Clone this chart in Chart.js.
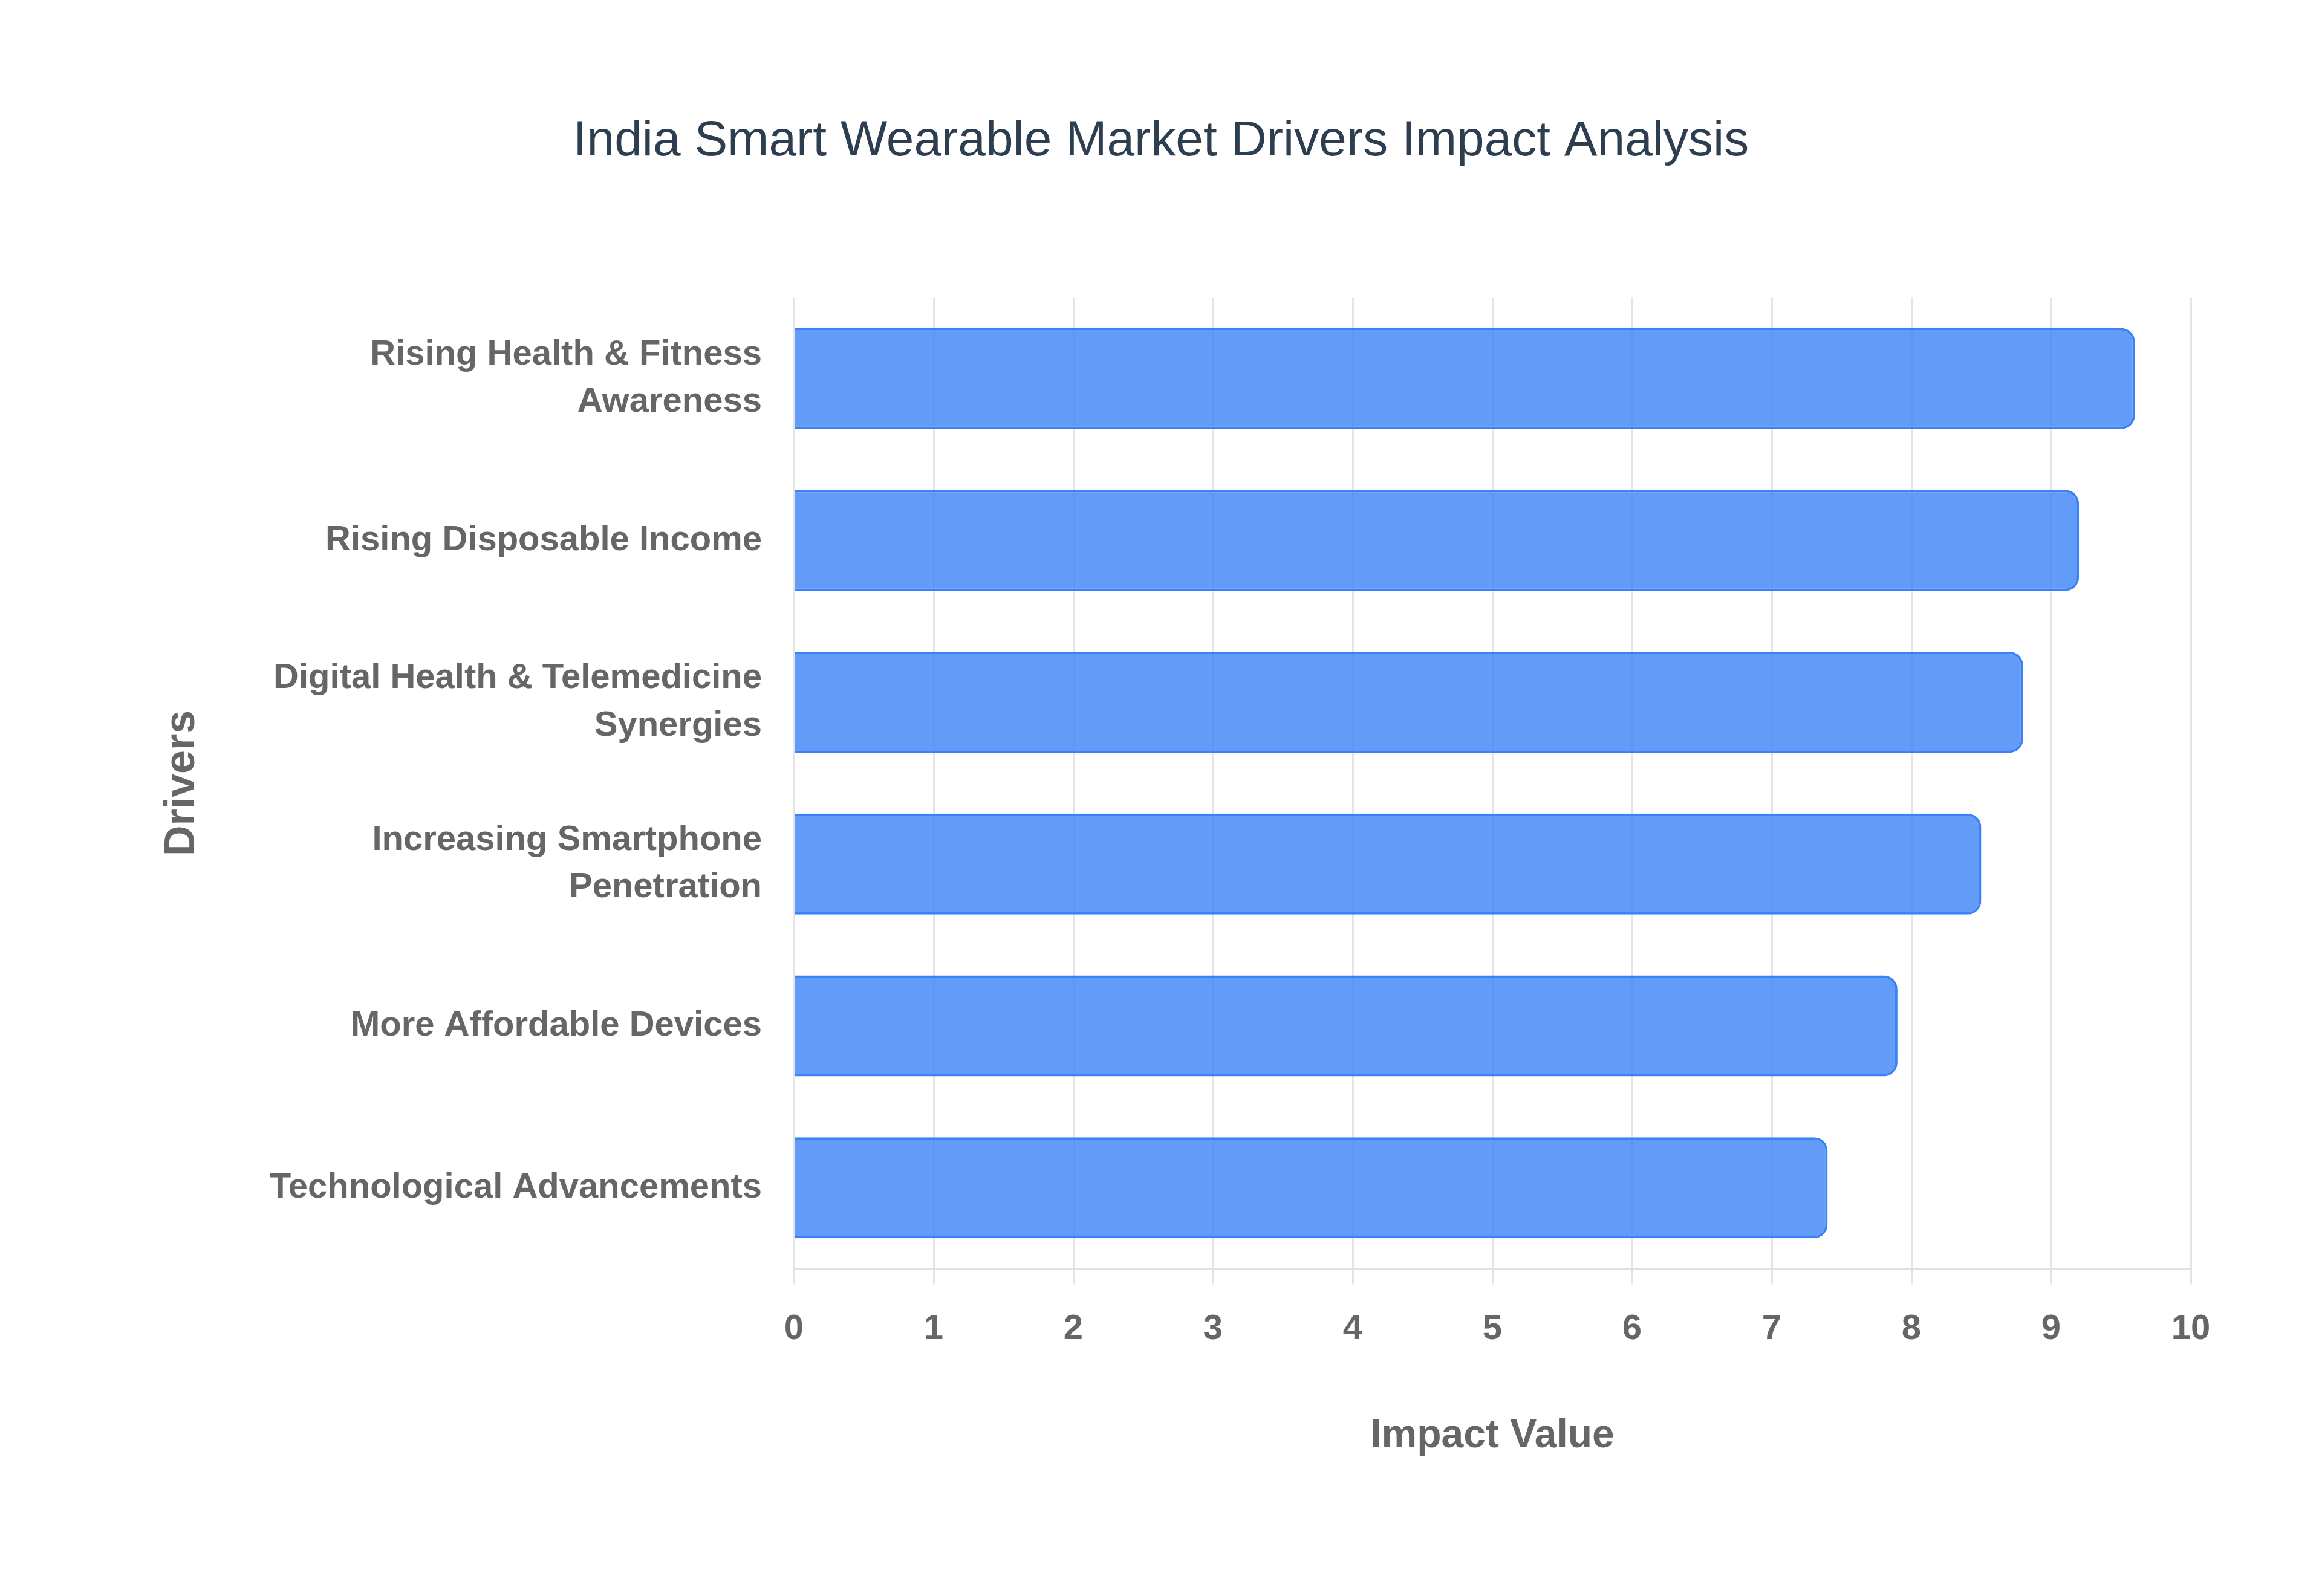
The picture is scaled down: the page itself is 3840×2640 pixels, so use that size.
<!DOCTYPE html>
<html>
<head>
<meta charset="utf-8">
<script src="https://cdn.jsdelivr.net/npm/chart.js@4/dist/chart.umd.min.js"></script>
<style>
  html, body { margin: 0; padding: 0; background: #ffffff; }
  #wrap { width: 3840px; height: 2640px; }
</style>
</head>
<body>
<div id="wrap"><canvas id="driversChart" width="3840" height="2640"></canvas></div>
<script>
// values
const drivers = [
    ['Rising Health & Fitness', 'Awareness'],
    'Rising Disposable Income',
    ['Digital Health & Telemedicine', 'Synergies'],
    ['Increasing Smartphone', 'Penetration'],
    'More Affordable Devices',
    'Technological Advancements'
];
const impactValues = [9.6, 9.2, 8.8, 8.5, 7.9, 7.4];
const xTicks = [0, 1, 2, 3, 4, 5, 6, 7, 8, 9, 10];

const chartTitle = 'India Smart Wearable Market Drivers Impact Analysis';
const xTitle = 'Impact Value';
const yTitle = 'Drivers';

document.addEventListener("DOMContentLoaded", function() {
    const ctx = document.getElementById('driversChart').getContext('2d');
    const labelFont = { family: "'Liberation Sans', Arial, sans-serif", size: 58, weight: 'bold', lineHeight: 1.35 };

    new Chart(ctx, {
        type: 'bar',
        data: {
            labels: drivers,
            datasets: [{
                label: 'Impact Value',
                data: impactValues,
                backgroundColor: 'rgba(59, 130, 246, 0.8)',
                borderColor: '#3b82f6',
                borderWidth: 4,
                borderRadius: 22,
                barPercentage: 0.78,
                categoryPercentage: 0.8
            }]
        },
        options: {
            indexAxis: 'y',
            responsive: false,
            animation: false,
            devicePixelRatio: 1,
            layout: { padding: 0 },
            plugins: {
                legend: { display: false },
                tooltip: { enabled: false },
                title: {
                    display: true,
                    text: chartTitle,
                    color: '#2c3e50',
                    font: { family: "'Liberation Sans', Arial, sans-serif", size: 82, weight: 'normal' },
                    padding: { top: 185, bottom: 209 }
                }
            },
            scales: {
                x: {
                    min: 0,
                    max: 10,
                    afterBuildTicks: function(scale) {
                        scale.ticks = xTicks.map(v => ({ value: v }));
                    },
                    afterFit: function(scale) {
                        // room on the right like the original
                        scale.paddingRight = 217;
                    },
                    grid: { color: 'rgba(0, 0, 0, 0.1)', lineWidth: 3, tickLength: 26 },
                    border: { color: 'rgba(0, 0, 0, 0.12)', width: 4 },
                    ticks: { color: '#666666', font: labelFont, padding: 35 },
                    title: {
                        display: true,
                        text: xTitle,
                        color: '#666666',
                        font: { family: "'Liberation Sans', Arial, sans-serif", size: 66, weight: 'bold' },
                        padding: { top: 63, bottom: 225 }
                    }
                },
                y: {
                    grid: { display: false, drawTicks: false },
                    border: { display: false },
                    ticks: { color: '#666666', font: labelFont, padding: 53 },
                    title: {
                        display: true,
                        text: yTitle,
                        color: '#666666',
                        font: { family: "'Liberation Sans', Arial, sans-serif", size: 70, weight: 'bold' },
                        padding: { top: 260, bottom: 0 }
                    },
                    afterFit: function(scale) {
                        scale.width = 1313;
                    }
                }
            }
        }
    });
});
</script>
</body>
</html>
